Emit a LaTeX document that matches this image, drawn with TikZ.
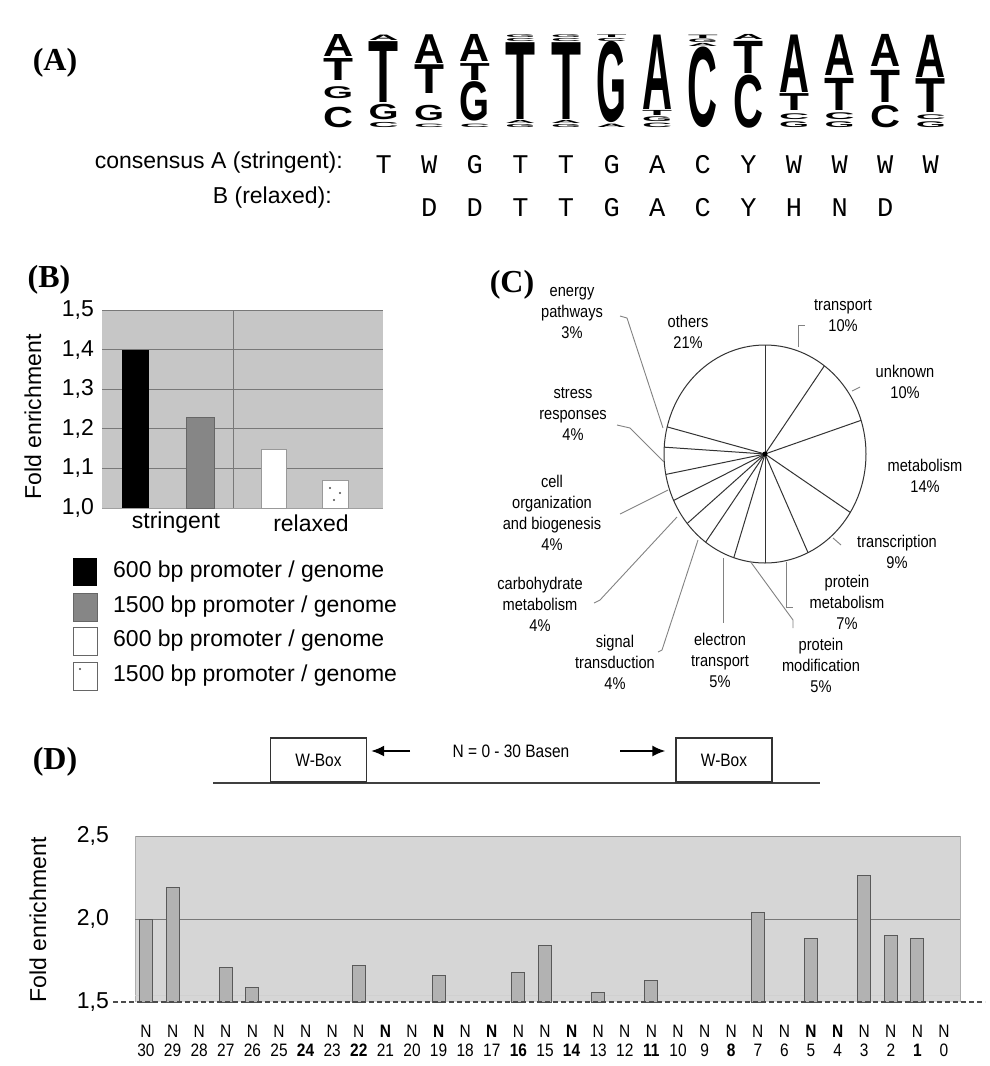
\documentclass[tikz,border=0pt]{standalone}
\usepackage{fontspec}
\setmainfont{Liberation Sans}
\newfontfamily\narrowfont[FakeStretch=0.86]{Liberation Sans}
\newfontfamily\serifbold[BoldFont={* Bold}]{Liberation Serif}
\newfontfamily\monofont{Liberation Mono}
\usepackage{graphicx}
\usetikzlibrary{arrows.meta}
\definecolor{bgB}{RGB}{198,198,198}
\definecolor{bgD}{RGB}{214,214,214}
\definecolor{gridc}{RGB}{120,120,120}
\definecolor{leader}{RGB}{130,130,130}
\begin{document}
\begin{tikzpicture}[x=1pt,y=-1pt,
  plabel/.style={font=\serifbold\bfseries\fontsize{32}{32}\selectfont,inner sep=0},
  logo/.style={inner sep=0,anchor=south},
  cons/.style={font=\monofont\fontsize{27}{27}\selectfont,inner sep=0},
  lbl/.style={font=\fontsize{23}{23}\selectfont,inner sep=0},
  pie/.style={font=\narrowfont\fontsize{17}{21}\selectfont,align=center,inner sep=0},
  lead/.style={leader,line width=0.9pt},
  ntick/.style={font=\narrowfont\fontsize{18}{18}\selectfont,inner sep=0},
  bigarrow/.style={-{Latex[length=13pt,width=11pt]},line width=1.8pt},
  wbox/.style={draw=black!80,line width=1.3pt,minimum width=96pt,minimum height=44pt,inner sep=0,font=\narrowfont\fontsize{18}{18}\selectfont}]
\useasboundingbox (0,0) rectangle (990,1066);
\fill[white] (0,0) rectangle (990,1066);
\newcommand\LL[4]{\pgfmathsetmacro\hh{max(1.2,(#3-#2)*0.3382)}%
  \node[logo,name=L#1x#2] at ({338+45.6*(#1-1)},{35+(#3-110)*0.3382}) {\resizebox{30pt}{\hh pt}{\bfseries #4}};}
% ---------------- (A)
\node[plabel] (pA) at (55,63) {(A)};
\LL{1}{110}{175}{A}\LL{1}{180}{245}{T}\LL{1}{265}{300}{G}\LL{1}{325}{385}{C}
\LL{2}{110}{126}{A}\LL{2}{130}{310}{T}\LL{2}{315}{360}{G}\LL{2}{370}{385}{C}
\LL{3}{110}{195}{A}\LL{3}{200}{285}{T}\LL{3}{320}{365}{G}\LL{3}{375}{385}{C}
\LL{4}{110}{190}{A}\LL{4}{195}{245}{T}\LL{4}{250}{365}{G}\LL{4}{375}{385}{C}
\LL{5}{110}{118}{G}\LL{5}{121}{130}{C}\LL{5}{133}{360}{T}\LL{5}{364}{373}{A}\LL{5}{376}{385}{G}
\LL{6}{110}{118}{G}\LL{6}{121}{130}{C}\LL{6}{133}{360}{T}\LL{6}{364}{373}{A}\LL{6}{376}{385}{G}
\LL{7}{110}{118}{T}\LL{7}{121}{130}{C}\LL{7}{133}{370}{G}\LL{7}{375}{385}{A}
\LL{8}{110}{330}{A}\LL{8}{335}{350}{T}\LL{8}{354}{368}{G}\LL{8}{372}{385}{C}
\LL{9}{110}{120}{T}\LL{9}{123}{133}{G}\LL{9}{136}{145}{A}\LL{9}{150}{385}{C}
\LL{10}{110}{125}{A}\LL{10}{130}{225}{T}\LL{10}{230}{385}{C}
\LL{11}{110}{280}{A}\LL{11}{285}{335}{T}\LL{11}{345}{362}{C}\LL{11}{368}{385}{G}
\LL{12}{110}{230}{A}\LL{12}{240}{335}{T}\LL{12}{342}{362}{C}\LL{12}{368}{385}{G}
\LL{13}{110}{205}{A}\LL{13}{215}{310}{T}\LL{13}{320}{385}{C}
\LL{14}{110}{235}{A}\LL{14}{240}{340}{T}\LL{14}{348}{362}{C}\LL{14}{368}{385}{G}
\node[lbl,anchor=east] (cA) at (343,163) {consensus A (stringent):};
\node[lbl,anchor=east] (cB) at (332,198) {B (relaxed):};
\foreach \i/\c in {2/T,3/W,4/G,5/T,6/T,7/G,8/A,9/C,10/Y,11/W,12/W,13/W,14/W}
  \node[cons] (sa\i) at ({338+45.6*(\i-1)},165) {\c};
\foreach \i/\c in {3/D,4/D,5/T,6/T,7/G,8/A,9/C,10/Y,11/H,12/N,13/D}
  \node[cons] (sb\i) at ({338+45.6*(\i-1)},208) {\c};
% ---------------- (B)
\node[plabel] (pB) at (49,280) {(B)};
\fill[bgB] (102,310) rectangle (383,508);
\foreach \v in {1,2,3,4} \draw[gridc,line width=0.8pt] (102,{508-\v*39.6}) -- (383,{508-\v*39.6});
\draw[gridc,line width=1pt] (102,310) -- (383,310);
\draw[gridc,line width=1pt] (233,310) -- (233,508);
\draw[gridc!70,line width=1pt] (102,508) -- (383,508);
\foreach \v/\t in {0/{1,0},1/{1,1},2/{1,2},3/{1,3},4/{1,4},5/{1,5}}
  \node[lbl,anchor=east] (bt\v) at (94,{508-\v*39.6}) {\t};
\node[lbl,rotate=90] (bax) at (33,417) {Fold enrichment};
\fill[black] (122,508) rectangle (149,350);
\fill[gray!95] (186,508) rectangle (214,417); \draw[black!60] (186,508) rectangle (214,417);
\filldraw[fill=white,draw=black!40] (261,508) rectangle (286,449);
\filldraw[fill=white,draw=black!40] (322,508) rectangle (348,480);
\foreach \p in {(330,488),(340,493),(334,500)} \fill[black!70] \p circle (1.2);
\node[lbl] (bs) at (176,523) {stringent};
\node[lbl] (br) at (311,523) {relaxed};
% legend
\fill[black] (73,558) rectangle (97,586);
\filldraw[fill=gray!95,draw=black!60] (73,593) rectangle (97,621);
\filldraw[fill=white,draw=black!60] (73,627) rectangle (97,655);
\filldraw[fill=white,draw=black!60] (73,662) rectangle (97,690);
\fill[black!70] (80,669) circle (1.2);
\node[lbl,anchor=west] (lg1) at (113,572) {600 bp promoter / genome};
\node[lbl,anchor=west] (lg2) at (113,607) {1500 bp promoter / genome};
\node[lbl,anchor=west] (lg3) at (113,641) {600 bp promoter / genome};
\node[lbl,anchor=west] (lg4) at (113,676) {1500 bp promoter / genome};
% ---------------- (C)
\node[plabel] (pC) at (512,285) {(C)};
\coordinate (pc) at (765,454);
\draw[black!80,line width=1pt] (pc) ellipse [x radius=101, y radius=109];
\foreach \c in {0,10,20,34,43,50,55,60,64,68,72,76,79}
  \draw[black!80,line width=1pt] (pc) -- ++({101*cos(90-3.6*\c)},{-109*sin(90-3.6*\c)});
\fill (pc) circle (2.5);
\node[pie] (t1) at (843,316) {transport\\10\%};
\node[pie] (t2) at (905,382) {unknown\\10\%};
\node[pie] (t3) at (925,476) {metabolism\\14\%};
\node[pie] (t4) at (897,552) {transcription\\9\%};
\node[pie] (t5) at (847,602) {protein\\metabolism\\7\%};
\node[pie] (t6) at (821,665) {protein\\modification\\5\%};
\node[pie] (t7) at (720,660) {electron\\transport\\5\%};
\node[pie] (t8) at (615,662) {signal\\transduction\\4\%};
\node[pie] (t9) at (540,604) {carbohydrate\\metabolism\\4\%};
\node[pie] (t10) at (552,513) {cell\\organization\\and biogenesis\\4\%};
\node[pie] (t11) at (573,414) {stress\\responses\\4\%};
\node[pie] (t12) at (572,313) {energy\\pathways\\3\%};
\node[pie] (t13) at (688,332) {others\\21\%};
\coordinate (e1a) at (798,347); \coordinate (e1b) at (798,325); \coordinate (e1c) at (805,325);
\draw[lead] (e1a) -- (e1b) -- (e1c);
\coordinate (e2a) at (852,391); \coordinate (e2b) at (860,387);
\draw[lead] (e2a) -- (e2b);
\coordinate (e4a) at (833,538); \coordinate (e4b) at (841,545);
\draw[lead] (e4a) -- (e4b);
\coordinate (e5a) at (786,562); \coordinate (e5b) at (786,607); \coordinate (e5c) at (793,607);
\draw[lead] (e5a) -- (e5b) -- (e5c);
\coordinate (e6a) at (750,561); \coordinate (e6b) at (793,620); \coordinate (e6c) at (793,628);
\draw[lead] (e6a) -- (e6b) -- (e6c);
\coordinate (e7a) at (723,558); \coordinate (e7b) at (723,623);
\draw[lead] (e7a) -- (e7b);
\coordinate (e8a) at (698,540); \coordinate (e8b) at (662,650); \coordinate (e8c) at (658,652);
\draw[lead] (e8a) -- (e8b) -- (e8c);
\coordinate (e9a) at (677,517); \coordinate (e9b) at (600,600); \coordinate (e9c) at (594,603);
\draw[lead] (e9a) -- (e9b) -- (e9c);
\coordinate (e10a) at (668,490); \coordinate (e10b) at (620,514);
\draw[lead] (e10a) -- (e10b);
\coordinate (e11a) at (664,462); \coordinate (e11b) at (630,428); \coordinate (e11c) at (617,425);
\draw[lead] (e11a) -- (e11b) -- (e11c);
\coordinate (e12a) at (663,428); \coordinate (e12b) at (627,318); \coordinate (e12c) at (620,316);
\draw[lead] (e12a) -- (e12b) -- (e12c);
% ---------------- (D)
\node[plabel] (pD) at (55,762) {(D)};
\coordinate (bl1) at (213,783); \coordinate (bl2) at (820,783);
\draw[black!75,line width=1.6pt] (bl1) -- (bl2);
\node[wbox,fill=white] (w1) at (318.5,760) {W-Box};
\node[wbox,fill=white] (w2) at (724,760) {W-Box};
\node[ntick] (nt) at (511,751) {N = 0 - 30 Basen};
\coordinate (a1) at (410,751); \coordinate (a2) at (620,751);
\draw[bigarrow] (a1) -- ([xshift=4pt]w1.east |- a1);
\draw[bigarrow] (a2) -- ([xshift=-10pt]w2.west |- a2);
\fill[bgD] (135,836) rectangle (960,1002);
\draw[gridc!80,line width=1pt] (135,836) -- (960,836);
\draw[gridc!60] (135,836) -- (135,1002) (960,836) -- (960,1002);
\draw[gridc,line width=1pt] (135,919) -- (960,919);
\draw[gridc!35] (135,995) -- (960,995);
\foreach \v/\t/\y in {0/{1,5}/1002,1/{2,0}/919,2/{2,5}/836}
  \node[lbl,anchor=east] (dt\v) at (109,\y) {\t};
\node[lbl,rotate=90] (dax) at (38,920) {Fold enrichment};
\foreach \k/\v in {30/2.0,29/2.19,27/1.71,26/1.59,22/1.72,19/1.66,16/1.68,15/1.84,13/1.56,11/1.63,7/2.04,5/1.88,3/2.26,2/1.9,1/1.88}
  \filldraw[fill=gray!60,draw=black!65,line width=1pt] ({146+(30-\k)*26.6-6.5},1002) rectangle ({146+(30-\k)*26.6+6.5},{1002-(\v-1.5)*166});
\draw[black!70,dashed,dash pattern=on 5pt off 3pt,line width=1.6pt] (113,1002) -- (985,1002);
\foreach \k/\nb/\db in {30/0/0,29/0/0,28/0/0,27/0/0,26/0/0,25/0/0,24/0/1,23/0/0,22/0/1,21/1/0,20/0/0,19/1/0,18/0/0,17/1/0,16/0/1,15/0/0,14/1/1,13/0/0,12/0/0,11/0/1,10/0/0,9/0/0,8/0/1,7/0/0,6/0/0,5/1/0,4/1/0,3/0/0,2/0/0,1/0/1,0/0/0}{
  \node[ntick] (nn\k) at ({146+(30-\k)*26.6},1031) {\ifnum\nb=1 \bfseries\fi N};
  \node[ntick] (nd\k) at ({146+(30-\k)*26.6},1050) {\ifnum\db=1 \bfseries\fi\k};
}
\end{tikzpicture}
\end{document}
